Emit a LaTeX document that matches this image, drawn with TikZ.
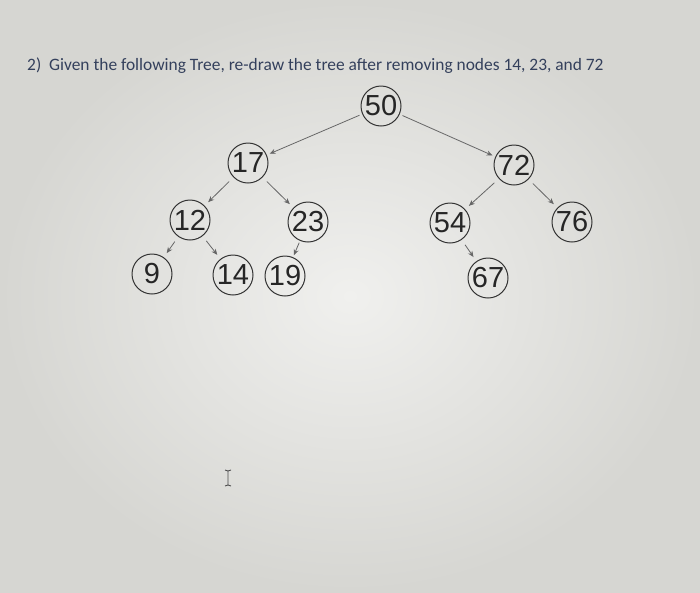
\documentclass[tikz,border=0pt]{standalone}
\usepackage{fontspec}
\setmainfont{Carlito}
\newfontfamily\digitfont{Liberation Sans}
\usetikzlibrary{arrows.meta}
\definecolor{titleblue}{HTML}{34405C}
\definecolor{bginner}{HTML}{F0F0EE}
\definecolor{bgouter}{HTML}{D6D6D2}
\begin{document}
\begin{tikzpicture}[x=1pt,y=-1pt,
  tnode/.style={circle,draw=black!80,line width=1pt,minimum size=40pt,inner sep=0pt,
    font=\digitfont\fontsize{29}{29}\selectfont,text=black!85},
  link/.style={draw=black!60,line width=0.8pt,-{Stealth[length=6pt,width=5pt]},
    shorten <=3pt,shorten >=3pt},
  short/.style={shorten <=6pt,shorten >=5pt}]
\useasboundingbox (0,0) rectangle (700,592);
\shade[inner color=bginner,outer color=bgouter] (0,0) rectangle (700,592);
\node[anchor=west,font=\fontsize{17.4}{17.4}\selectfont,text=titleblue,inner sep=0pt] (title) at (27,66)
  {2)\ \ Given the following Tree, re-draw the tree after removing nodes 14, 23, and 72};
\node[tnode] (n50) at (381,106) {50};
\node[tnode] (n17) at (248,163) {17};
\node[tnode] (n72) at (514,165) {72};
\node[tnode] (n12) at (190,220) {12};
\node[tnode] (n23) at (308,222) {23};
\node[tnode] (n54) at (450,223) {54};
\node[tnode] (n76) at (572,222) {76};
\node[tnode] (n9) at (152,274) {9};
\node[tnode] (n14) at (233,275) {14};
\node[tnode] (n19) at (285,276) {19};
\node[tnode] (n67) at (488,278) {67};
\draw[link] (n50) -- (n17);
\draw[link] (n50) -- (n72);
\draw[link,short] (n17) -- (n12);
\draw[link,short] (n17) -- (n23);
\draw[link,short] (n72) -- (n54);
\draw[link,short] (n72) -- (n76);
\draw[link,short] (n12) -- (n9);
\draw[link,short] (n12) -- (n14);
\draw[link,shorten <=2pt,shorten >=2pt] (n23) -- (n19);
\draw[link,short] (n54) -- (n67);
% text cursor
\draw[black!70,line width=0.9pt] (228,471) -- (228,485)
  (225,470) .. controls (227,470) .. (228,471) .. controls (229,470) .. (231,470)
  (225,486) .. controls (227,486) .. (228,485) .. controls (229,486) .. (231,486);
\end{tikzpicture}
\end{document}
